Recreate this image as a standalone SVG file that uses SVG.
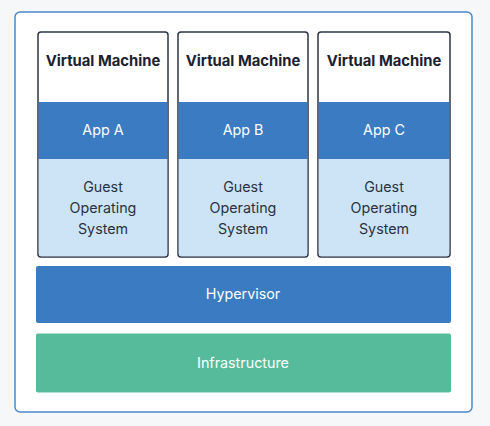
<svg xmlns="http://www.w3.org/2000/svg" width="490" height="426" viewBox="0 0 490 426">
<style>
.vmt{font-family:Inter,"Open Sans",sans-serif;font-weight:700;font-size:14.8px;fill:#1b2130;text-anchor:middle}
.lbl{font-family:Inter,"Open Sans",sans-serif;font-size:14.3px;text-anchor:middle}
.w{fill:#ffffff}
.d{fill:#2a3242}
.vm{fill:#ffffff;stroke:#2c3446;stroke-width:1.5}
.app{fill:#3a7bc2}
.os{fill:#cce4f6}
</style>
<rect x="0" y="0" width="490" height="426" fill="#f5f7f9"/>
<g id="host">
<rect x="15" y="12" width="457" height="400" rx="5" fill="#ffffff" stroke="#4a88c9" stroke-width="1.5"/>
</g>
<g id="vm1">
<rect class="vm" x="38" y="32" width="130" height="225" rx="3"/>
<rect class="app" x="38.75" y="102" width="128.5" height="57"/>
<path class="os" d="M38.75 159 H167.25 V254 a2.25 2.25 0 0 1 -2.25 2.25 H41 a2.25 2.25 0 0 1 -2.25 -2.25 Z"/>
<text class="vmt" x="103" y="66">Virtual Machine</text>
<text class="lbl w" x="103" y="135">App A</text>
<text class="lbl d" x="103" y="192">Guest</text>
<text class="lbl d" x="103" y="213">Operating</text>
<text class="lbl d" x="103" y="234">System</text>
</g>
<g id="vm2">
<rect class="vm" x="178" y="32" width="130" height="225" rx="3"/>
<rect class="app" x="178.75" y="102" width="128.5" height="57"/>
<path class="os" d="M178.75 159 H307.25 V254 a2.25 2.25 0 0 1 -2.25 2.25 H181 a2.25 2.25 0 0 1 -2.25 -2.25 Z"/>
<text class="vmt" x="243" y="66">Virtual Machine</text>
<text class="lbl w" x="243" y="135">App B</text>
<text class="lbl d" x="243" y="192">Guest</text>
<text class="lbl d" x="243" y="213">Operating</text>
<text class="lbl d" x="243" y="234">System</text>
</g>
<g id="vm3">
<rect class="vm" x="318" y="32" width="132" height="225" rx="3"/>
<rect class="app" x="318.75" y="102" width="130.5" height="57"/>
<path class="os" d="M318.75 159 H449.25 V254 a2.25 2.25 0 0 1 -2.25 2.25 H321 a2.25 2.25 0 0 1 -2.25 -2.25 Z"/>
<text class="vmt" x="384" y="66">Virtual Machine</text>
<text class="lbl w" x="384" y="135">App C</text>
<text class="lbl d" x="384" y="192">Guest</text>
<text class="lbl d" x="384" y="213">Operating</text>
<text class="lbl d" x="384" y="234">System</text>
</g>
<g id="hypervisor">
<rect x="36" y="266" width="415" height="57" rx="2" fill="#3a7bc2"/>
<text class="lbl w" x="243" y="299">Hypervisor</text>
</g>
<g id="infrastructure">
<rect x="36" y="333.5" width="415" height="59" rx="2" fill="#56bb9b"/>
<text class="lbl w" x="243" y="368">Infrastructure</text>
</g>
<g id="connectors"/>
</svg>
